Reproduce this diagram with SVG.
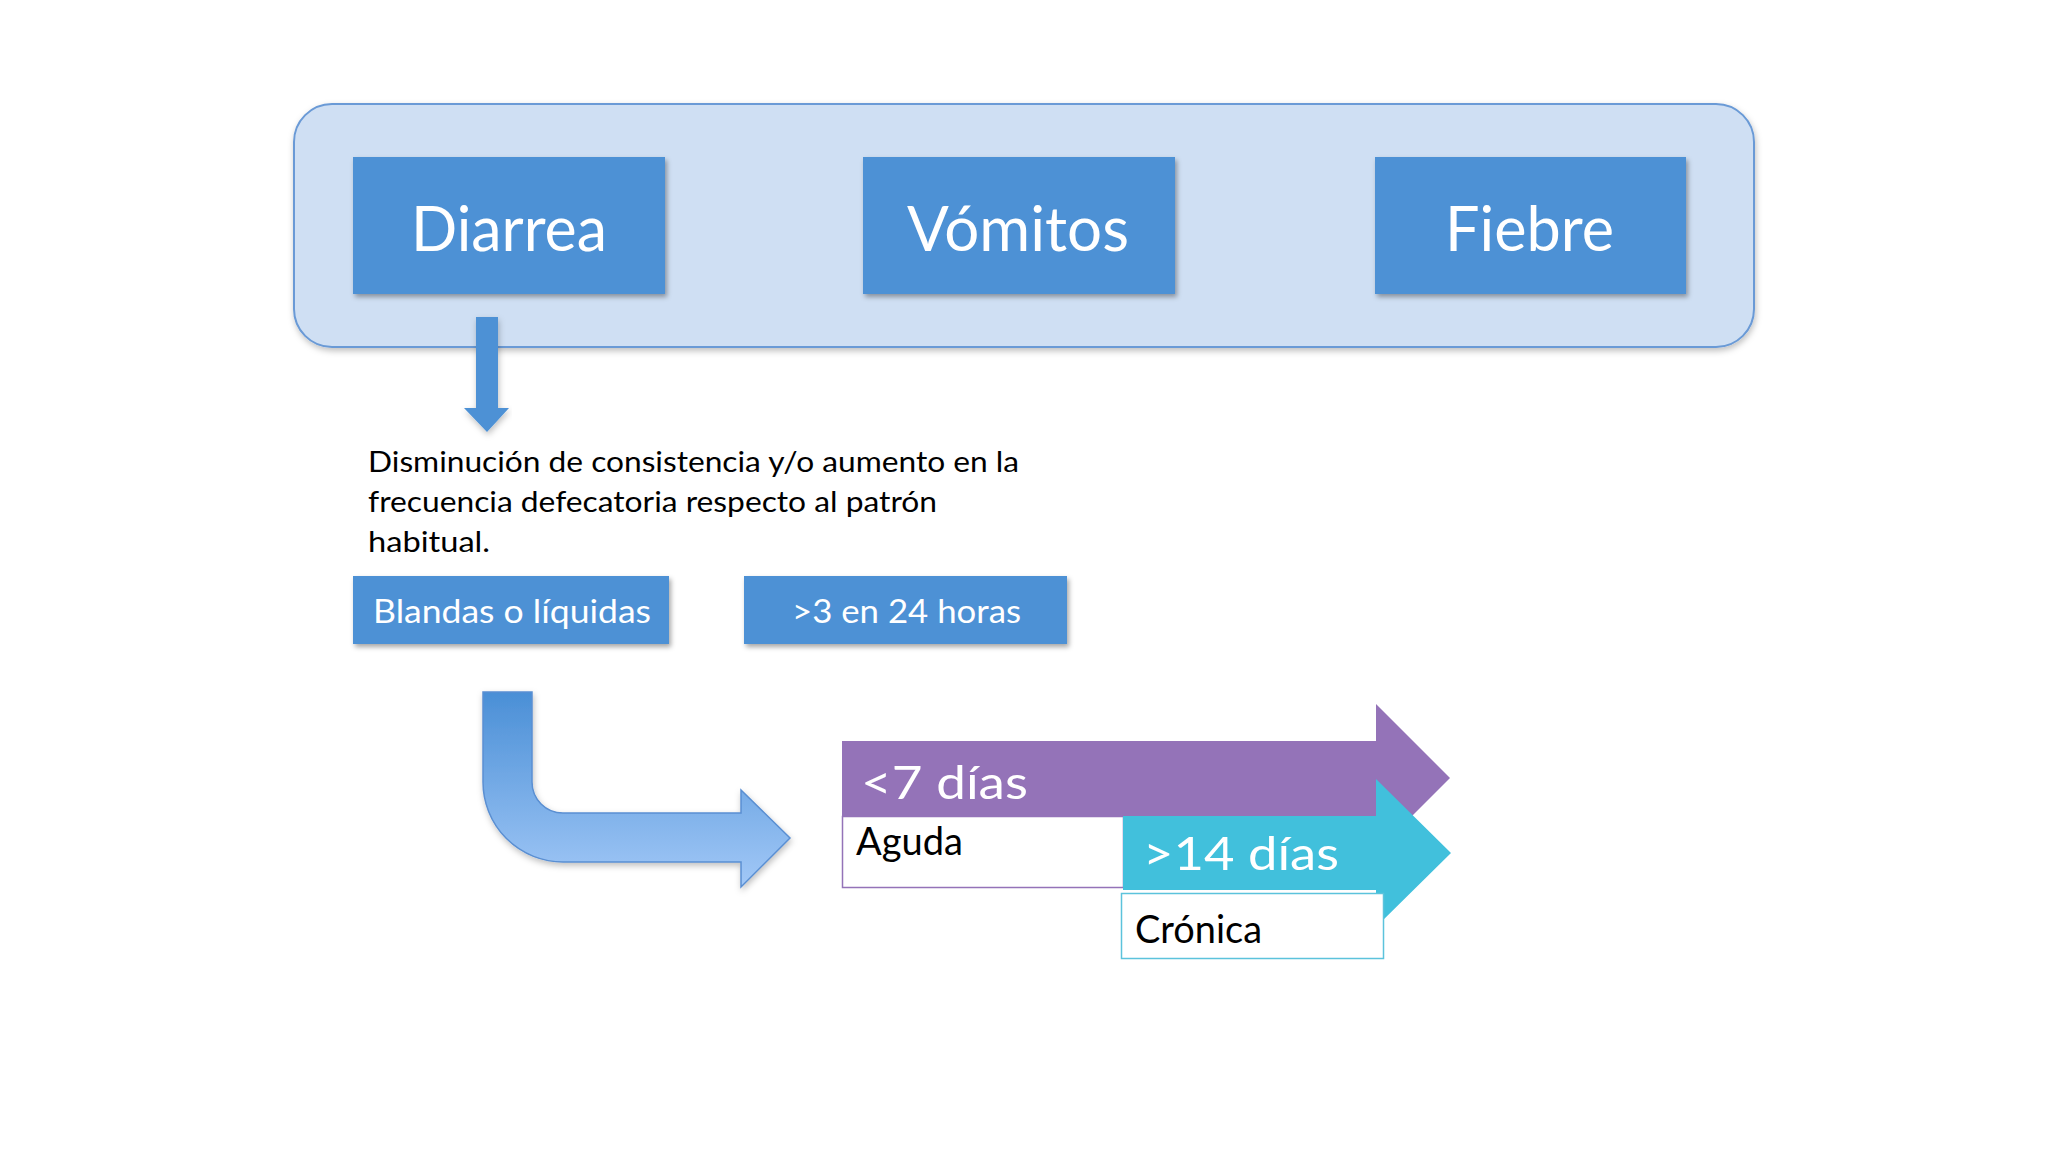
<svg xmlns="http://www.w3.org/2000/svg" width="2048" height="1152" viewBox="0 0 2048 1152">
  <defs>
    <filter id="sh" x="-10%" y="-10%" width="130%" height="140%">
      <feDropShadow dx="2" dy="3" stdDeviation="2.5" flood-color="#000" flood-opacity="0.35"/>
    </filter>
    <filter id="shSoft" x="-5%" y="-10%" width="110%" height="130%">
      <feDropShadow dx="1" dy="3" stdDeviation="3" flood-color="#000" flood-opacity="0.25"/>
    </filter>
    <linearGradient id="bentGrad" x1="0" y1="0" x2="0" y2="1">
      <stop offset="0" stop-color="#4a8fd6"/>
      <stop offset="1" stop-color="#a2c8f7"/>
    </linearGradient>
    <style>
      .t { font-family: Lato, "Open Sans", "Liberation Sans", sans-serif; }
      .title { font-size: 62px; fill: #ffffff; }
      .para { font-size: 29px; fill: #000000; }
      .boxt { font-size: 32px; fill: #ffffff; }
      .arrt { font-size: 47px; fill: #ffffff; }
      .lbl { font-size: 38px; fill: #000000; }
      .blue { fill: #4d91d5; }
    </style>
  </defs>
  <rect width="2048" height="1152" fill="#ffffff"/>

  <g id="container">
    <rect x="294" y="104" width="1460" height="243" rx="38" ry="38" fill="#cfdff3" stroke="#6a9ad6" stroke-width="2" filter="url(#shSoft)"/>
  </g>

  <g id="node-diarrea">
    <rect class="blue" x="353" y="157" width="312" height="137" filter="url(#sh)"/>
    <text class="t title" x="411" y="251" textLength="196" lengthAdjust="spacingAndGlyphs">Diarrea</text>
  </g>
  <g id="node-vomitos">
    <rect class="blue" x="863" y="157" width="312" height="137" filter="url(#sh)"/>
    <text class="t title" x="907" y="251" textLength="222" lengthAdjust="spacingAndGlyphs">Vómitos</text>
  </g>
  <g id="node-fiebre">
    <rect class="blue" x="1375" y="157" width="311" height="137" filter="url(#sh)"/>
    <text class="t title" x="1445" y="251" textLength="169" lengthAdjust="spacingAndGlyphs">Fiebre</text>
  </g>

  <g id="definition">
    <text class="t para" x="368" y="472" textLength="651" lengthAdjust="spacingAndGlyphs">Disminución de consistencia y/o aumento en la</text>
    <text class="t para" x="368" y="512" textLength="569" lengthAdjust="spacingAndGlyphs">frecuencia defecatoria respecto al patrón</text>
    <text class="t para" x="368" y="552" textLength="122" lengthAdjust="spacingAndGlyphs">habitual.</text>
  </g>

  <g id="node-blandas">
    <rect class="blue" x="353" y="576" width="316" height="68" filter="url(#sh)"/>
    <text class="t boxt" x="373" y="623" textLength="278" lengthAdjust="spacingAndGlyphs">Blandas o líquidas</text>
  </g>
  <g id="node-frecuencia">
    <rect class="blue" x="744" y="576" width="323" height="68" filter="url(#sh)"/>
    <text class="t boxt" x="792" y="623" textLength="229" lengthAdjust="spacingAndGlyphs">&gt;3 en 24 horas</text>
  </g>

  <g id="connectors">
    <path d="M476,317 H498 V408 H509 L487,432 L464,408 H476 Z" fill="#4d91d5" filter="url(#shSoft)"/>
    <path d="M483,692 H532 V782 A31,31 0 0 0 563,813 H741 V790 L790,838 L741,887 V862 H563 A80,80 0 0 1 483,782 Z" fill="url(#bentGrad)" stroke="#5a8fd2" stroke-width="1.5" filter="url(#shSoft)"/>
  </g>

  <g id="node-aguda">
    <path d="M842,741 H1376 V704 L1450,778 L1376,852 V816 H842 Z" fill="#9473b8"/>
    <text class="t arrt" x="861" y="799" textLength="167" lengthAdjust="spacingAndGlyphs">&lt;7 días</text>
    <rect x="842.5" y="816.5" width="281" height="71" fill="#ffffff" stroke="#9473b8" stroke-width="1.5"/>
    <text class="t lbl" x="856" y="855" textLength="107" lengthAdjust="spacingAndGlyphs">Aguda</text>
  </g>

  <g id="node-cronica">
    <path d="M1123,816 H1376 V779 L1451,853 L1376,927 V890 H1123 Z" fill="#41c0dc"/>
    <text class="t arrt" x="1143" y="870" textLength="196" lengthAdjust="spacingAndGlyphs">&gt;14 días</text>
    <rect x="1121.5" y="893.5" width="262" height="65" fill="#ffffff" stroke="#5cc3dc" stroke-width="1.5"/>
    <text class="t lbl" x="1135" y="943" textLength="127" lengthAdjust="spacingAndGlyphs">Crónica</text>
  </g>
</svg>
